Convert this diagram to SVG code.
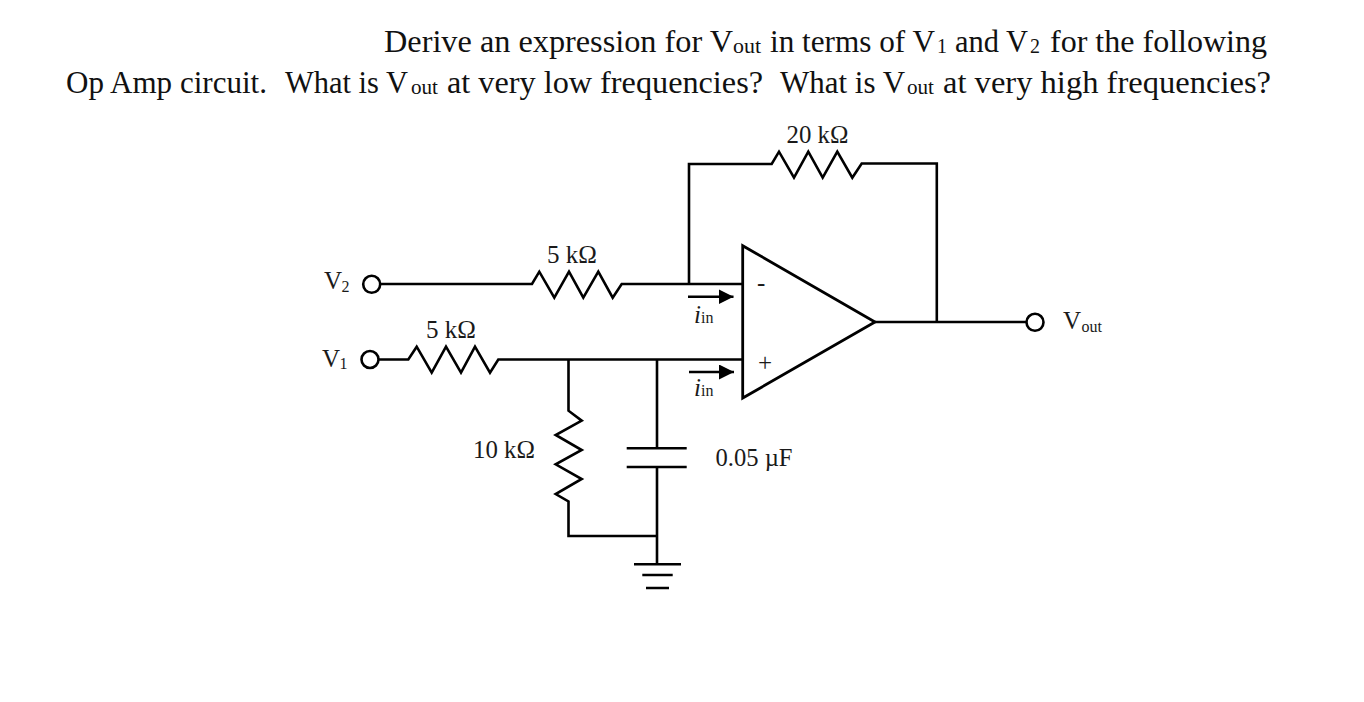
<svg xmlns="http://www.w3.org/2000/svg" width="1364" height="702" viewBox="0 0 1364 702">
<style>
.w{fill:none;stroke:#000;stroke-width:2.6;stroke-linejoin:miter}
.t{font-family:"Liberation Serif","Times New Roman",serif;font-size:25px;fill:#1a1a1a}
.h{font-family:"Liberation Serif","Times New Roman",serif;font-size:32px;fill:#111}
.s{font-size:22px}
.u{font-size:16px}
</style>
<defs>
<marker id="a" markerUnits="userSpaceOnUse" markerWidth="16" markerHeight="16" refX="15" refY="7.5" orient="auto"><path d="M0 0L15 7.5L0 15Z" fill="#000"/></marker>
</defs>
<rect width="1364" height="702" fill="#fff"/>
<g id="title">
<text class="h" y="52" xml:space="preserve"><tspan x="384" y="52" textLength="349" lengthAdjust="spacingAndGlyphs">Derive an expression for V</tspan><tspan class="s" x="733" y="53" textLength="28" lengthAdjust="spacingAndGlyphs">out</tspan> <tspan x="770" y="52" textLength="165" lengthAdjust="spacingAndGlyphs">in terms of V</tspan><tspan class="s" x="937" y="53" textLength="10" lengthAdjust="spacingAndGlyphs">1</tspan> <tspan x="955" y="52" textLength="73" lengthAdjust="spacingAndGlyphs">and V</tspan><tspan class="s" x="1030" y="53" textLength="10" lengthAdjust="spacingAndGlyphs">2</tspan> <tspan x="1050" y="52" textLength="217" lengthAdjust="spacingAndGlyphs">for the following</tspan></text>
<text class="h" y="93" xml:space="preserve"><tspan x="66" y="93" textLength="201" lengthAdjust="spacingAndGlyphs">Op Amp circuit.</tspan>  <tspan x="285" y="93" textLength="123" lengthAdjust="spacingAndGlyphs">What is V</tspan><tspan class="s" x="411" y="94" textLength="27" lengthAdjust="spacingAndGlyphs">out</tspan> <tspan x="447" y="93" textLength="316" lengthAdjust="spacingAndGlyphs">at very low frequencies?</tspan>  <tspan x="780" y="93" textLength="125" lengthAdjust="spacingAndGlyphs">What is V</tspan><tspan class="s" x="907" y="94" textLength="27" lengthAdjust="spacingAndGlyphs">out</tspan> <tspan x="943" y="93" textLength="328" lengthAdjust="spacingAndGlyphs">at very high frequencies?</tspan></text>
</g>
<g id="connectors">
<path class="w" d="M381 284H532L539.3 271.7L554.3 297.7L569 271.7L583.3 297.7L598.3 271.7L612.7 297.7L621.7 284H742"/>
<path class="w" d="M379 359.5H408.3L416.7 346.7L431.7 372.7L446 346.7L461 372.7L475 346.7L490 372.7L498.3 359.5H742"/>
<path class="w" d="M689 284V164H771.7L779 151.7L794 177.7L808.3 151.7L822.7 177.7L837.3 151.7L852.3 177.7L861.7 163.5H936.8V322"/>
<path class="w" d="M875 322H1026"/>
<path class="w" d="M568.5 360V410.7L581.7 420.7L555.7 435L581.7 450L555.7 464.3L581.7 479L555.7 494L568.5 501.5V536H657"/>
<path class="w" d="M657 360V448.3M657 467V564.3"/>
<path class="w" marker-end="url(#a)" d="M688 296.7H733.5"/>
<path class="w" marker-end="url(#a)" d="M689 372H734"/>
</g>
<g id="v2-terminal"><circle class="w" cx="371.7" cy="284.3" r="8.5"/><text class="t" x="324" y="289">V<tspan class="u" x="341.5" y="292">2</tspan></text></g>
<g id="v1-terminal"><circle class="w" cx="370" cy="359.5" r="8.5"/><text class="t" x="322" y="367">V<tspan class="u" x="339.5" y="369">1</tspan></text></g>
<g id="vout-terminal"><circle class="w" cx="1035" cy="322.3" r="8.5"/><text class="t" x="1063" y="329">V<tspan class="u" x="1081.5" y="331.5">out</tspan></text></g>
<g id="r-input-2"><text class="t" x="547" y="263" textLength="50" lengthAdjust="spacingAndGlyphs">5 kΩ</text></g>
<g id="r-input-1"><text class="t" x="426" y="338" textLength="50" lengthAdjust="spacingAndGlyphs">5 kΩ</text></g>
<g id="r-feedback"><text class="t" x="786.5" y="142.5" textLength="62" lengthAdjust="spacingAndGlyphs">20 kΩ</text></g>
<g id="r-shunt"><text class="t" x="473" y="458" textLength="62" lengthAdjust="spacingAndGlyphs">10 kΩ</text></g>
<g id="capacitor"><path class="w" d="M626.7 448.3H686.7M626.7 467H686.7"/><text class="t" x="715.5" y="466" textLength="77" lengthAdjust="spacingAndGlyphs">0.05 µF</text></g>
<g id="ground"><path class="w" d="M634 564.3H681M642.3 575H672.7M646 588H669"/></g>
<g id="opamp"><path class="w" style="stroke-width:2.8" d="M742.7 245.7V398L875 322Z"/><text class="t" x="757" y="291">-</text><text class="t" x="758" y="371">+</text></g>
<g id="iin-labels">
<text class="t" x="694" y="322.5"><tspan font-style="italic">i</tspan><tspan class="u">in</tspan></text>
<text class="t" x="694" y="396"><tspan font-style="italic">i</tspan><tspan class="u">in</tspan></text>
</g>
</svg>
